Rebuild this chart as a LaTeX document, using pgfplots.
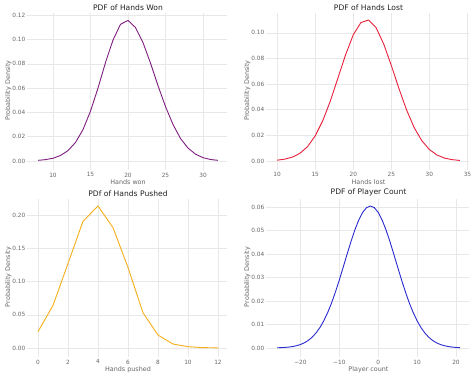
\documentclass[border=0pt]{standalone}
\usepackage{pgfplots}
\pgfplotsset{compat=1.18}
\usepackage{fontspec}
\setmainfont{DejaVu Sans}
\definecolor{gridc}{HTML}{E8E8E8}
\definecolor{tickc}{HTML}{666666}
\definecolor{titlec}{HTML}{222222}
\definecolor{cpurple}{HTML}{7E1E80}
\definecolor{cred}{HTML}{E8203A}
\definecolor{corange}{HTML}{F5AE1A}
\definecolor{cblue}{HTML}{2A2AD0}
\pgfplotsset{
  pan/.style={
    scale only axis,
    axis line style={draw=none},
    grid=major,
    major grid style={gridc, line width=0.5pt},
    tick style={gridc, line width=0.5pt},
    major tick length=2pt,
    tick align=outside,
    xtick pos=bottom, ytick pos=left,
    ticklabel style={font=\fontsize{5.8}{6}\selectfont, text=tickc, inner sep=1.5pt},
    x tick label style={yshift=-1pt},
    /pgf/number format/assume math mode=true,
    label style={font=\fontsize{6.4}{7}\selectfont, text=tickc},
    title style={font=\fontsize{7.6}{8}\selectfont, text=titlec, yshift=-7pt},
    ylabel={Probability Density},
    ylabel style={yshift=-4pt},
    xlabel style={yshift=2pt},
    y tick label style={/pgf/number format/.cd, fixed, fixed zerofill, precision=2},
    scaled y ticks=false,
  }
}
\begin{document}
\begin{tikzpicture}
\useasboundingbox (0pt,0pt) rectangle (474pt,377pt);
% Top left
\begin{axis}[pan, at={(29pt,209pt)}, anchor=south west, width=198pt, height=155pt,
  title={PDF of Hands Won}, xlabel={Hands won},
  xmin=6.8, xmax=33.2, ymin=-0.0058, ymax=0.1218,
  xtick={10,15,20,25,30}, ytick={0,0.02,0.04,0.06,0.08,0.10,0.12}]
\addplot[cpurple, line width=0.9pt] coordinates {
(8,0.0005) (9,0.0011) (10,0.0022) (11,0.0045) (12,0.0085) (13,0.0152) (14,0.0258)
(15,0.0410) (16,0.0600) (17,0.0810) (18,0.0995) (19,0.1125) (20,0.1157) (21,0.1098)
(22,0.0975) (23,0.0805) (24,0.0620) (25,0.0448) (26,0.0300) (27,0.0185) (28,0.0106)
(29,0.0056) (30,0.0027) (31,0.0012) (32,0.0005)};
\end{axis}
% Top right
\begin{axis}[pan, at={(268pt,209pt)}, anchor=south west, width=201pt, height=155pt,
  title={PDF of Hands Lost}, xlabel={Hands lost},
  xmin=8.8, xmax=35.2, ymin=-0.0055, ymax=0.1155,
  xtick={10,15,20,25,30,35}, ytick={0,0.02,0.04,0.06,0.08,0.10}]
\addplot[cred, line width=0.9pt] coordinates {
(10,0.0006) (11,0.0014) (12,0.0030) (13,0.0060) (14,0.0112) (15,0.0196) (16,0.0315)
(17,0.0470) (18,0.0650) (19,0.0830) (20,0.0985) (21,0.1080) (22,0.1100) (23,0.1040)
(24,0.0912) (25,0.0745) (26,0.0565) (27,0.0398) (28,0.0260) (29,0.0158) (30,0.0089)
(31,0.0046) (32,0.0022) (33,0.0010) (34,0.0004)};
\end{axis}
% Bottom left
\begin{axis}[pan, at={(29pt,22pt)}, anchor=south west, width=198pt, height=156pt,
  title={PDf of Hands Pushed}, xlabel={Hands pushed},
  xmin=-0.6, xmax=12.6, ymin=-0.0105, ymax=0.224,
  xtick={0,2,4,6,8,10,12}, ytick={0,0.05,0.10,0.15,0.20}]
\addplot[corange, line width=0.9pt] coordinates {
(0,0.0246) (1,0.0640) (2,0.1270) (3,0.1905) (4,0.2135) (5,0.1810) (6,0.1210)
(7,0.0530) (8,0.0195) (9,0.0060) (10,0.0020) (11,0.0006) (12,0.0002)};
\end{axis}
% Bottom right
\begin{axis}[pan, at={(268pt,22pt)}, anchor=south west, width=201pt, height=156pt,
  title={PDF of Player Count}, xlabel={Player count},
  xmin=-28.35, xmax=23.35, ymin=-0.003, ymax=0.0635,
  xtick={-20,-10,0,10,20}, xticklabels={−20,−10,0,10,20},
  ytick={0,0.01,0.02,0.03,0.04,0.05,0.06}]
\addplot[cblue, line width=0.9pt] coordinates {
(-26,0.00008) (-25,0.00014) (-24,0.00023) (-23,0.00038) (-22,0.00061) (-21,0.00096)
(-20,0.00147) (-19,0.00219) (-18,0.00320) (-17,0.00457) (-16,0.00638) (-15,0.00869)
(-14,0.01158) (-13,0.01508) (-12,0.01919) (-11,0.02387) (-10,0.02902) (-9,0.03447)
(-8,0.04001) (-7,0.04540) (-6,0.05035) (-5,0.05456) (-4,0.05778) (-3,0.05981)
(-2,0.06050) (-1,0.05981) (0,0.05778) (1,0.05456) (2,0.05035) (3,0.04540)
(4,0.04001) (5,0.03447) (6,0.02902) (7,0.02387) (8,0.01919) (9,0.01508)
(10,0.01158) (11,0.00869) (12,0.00638) (13,0.00457) (14,0.00320) (15,0.00219)
(16,0.00147) (17,0.00096) (18,0.00061) (19,0.00038) (20,0.00023) (21,0.00014)};
\end{axis}
\end{tikzpicture}
\end{document}
